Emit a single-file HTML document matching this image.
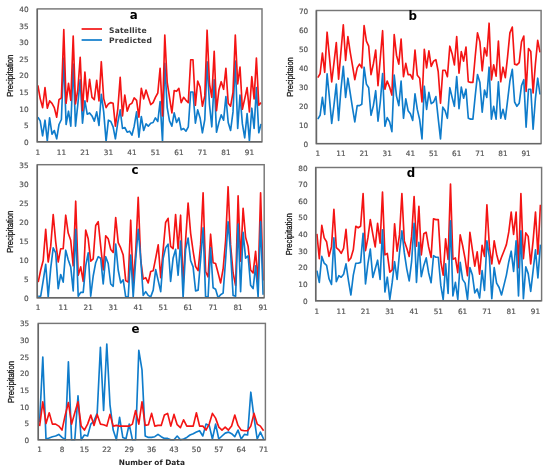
<!DOCTYPE html>
<html><head><meta charset="utf-8"><title>Precipitation charts</title>
<style>
html,body{margin:0;padding:0;background:#fff;}
body{width:550px;height:471px;overflow:hidden;}
svg{display:block;}
.tk{font-family:"DejaVu Sans","Liberation Sans",sans-serif;font-size:7.3px;fill:#555;stroke:#555;stroke-width:0.2px;}
.yl{font-family:"Liberation Sans","DejaVu Sans",sans-serif;font-size:8.6px;fill:#1a1a1a;stroke:#1a1a1a;stroke-width:0.3px;}
.ti{font-family:"DejaVu Sans","Liberation Sans",sans-serif;font-size:11.8px;font-weight:bold;fill:#000;}
.lg{font-family:"DejaVu Sans","Liberation Sans",sans-serif;font-size:7.6px;letter-spacing:0.2px;font-weight:bold;fill:#3a3a3a;}
.xt{font-family:"DejaVu Sans","Liberation Sans",sans-serif;font-size:7.4px;font-weight:bold;fill:#262626;}
</style></head><body>
<svg width="550" height="471" viewBox="0 0 550 471">
<rect width="550" height="471" fill="#fff"/>

<polyline points="37.9,117.2 40.2,120.9 42.6,135.8 45,120.2 47.3,140.8 49.6,117.9 52,134.2 54.3,130.5 56.7,138.8 59,124.5 61.4,119.5 63.8,58.1 66.1,124.5 68.5,111.2 70.8,126.2 73.2,64.1 75.5,126.2 77.8,104.6 80.2,79.7 82.5,123.2 84.9,100.9 87.2,114.2 89.6,112.9 92,115.9 94.3,121.2 96.7,111.9 99,125.5 101.3,94.3 103.7,111.9 106.1,141.5 108.4,120.2 110.8,121.5 113.1,126.8 115.4,138.8 117.8,122.5 120.2,109.9 122.5,128.5 124.8,127.5 127.2,132.2 129.6,131.2 131.9,135.2 134.2,126.2 136.6,111.9 138.9,137.1 141.3,116.5 143.7,130.5 146,123.9 148.3,126.2 150.7,123.2 153.1,122.5 155.4,117.9 157.8,121.5 160.1,101.6 162.5,141.5 164.8,63.4 167.2,107.6 169.5,120.9 171.9,126.2 174.2,112.9 176.6,122.5 178.9,117.9 181.2,129.8 183.6,128.5 186,131.2 188.3,126.8 190.7,92 193,92 195.4,123.2 197.7,109.9 200.1,117.9 202.4,132.8 204.8,119.5 207.1,61.7 209.5,104.6 211.8,126.8 214.2,79.7 216.5,132.2 218.9,122.5 221.2,114.9 223.6,120.2 225.9,96.6 228.2,122.5 230.6,130.5 233,111.9 235.3,61.1 237.7,128.5 240,95 242.4,123.9 244.7,137.8 247.1,113.6 249.4,140.8 251.8,108.2 254.1,128.5 256.4,87.6 258.8,132.8 261.1,123.9" fill="none" stroke="#0f7ccb" stroke-width="1.65" stroke-linejoin="round"/>
<polyline points="37.9,85.3 40.2,98.6 42.6,107.6 45,87.6 47.3,108.2 49.6,100.9 52,103.3 54.3,107.6 56.7,117.2 59,99.6 61.4,97.9 63.8,29.5 66.1,103.3 68.5,83.3 70.8,100.3 73.2,36.1 75.5,103.9 77.8,90 80.2,57.4 82.5,110.6 84.9,72 87.2,101.6 89.6,79.3 92,97.3 94.3,99.6 96.7,80.3 99,100.9 101.3,61.7 103.7,98.6 106.1,107.6 108.4,103.9 110.8,102.6 113.1,103.3 115.4,126.2 117.8,109.2 120.2,77.3 122.5,115.9 124.8,95 127.2,111.2 129.6,104.6 131.9,103.3 134.2,97.9 136.6,100.3 138.9,117.2 141.3,88.3 143.7,98.9 146,90 148.3,97.3 150.7,104.6 153.1,102.6 155.4,97.3 157.8,93 160.1,68.4 162.5,115.9 164.8,35.1 167.2,82.3 169.5,97.3 171.9,112.9 174.2,90.6 176.6,91.3 178.9,88.3 181.2,102.6 183.6,97.3 186,100.3 188.3,102.6 190.7,59.7 193,59.7 195.4,105.3 197.7,81 200.1,87 202.4,106.2 204.8,95.9 207.1,30.2 209.5,84 211.8,97.3 214.2,51.4 216.5,110.6 218.9,90 221.2,81.7 223.6,89.3 225.9,68.4 228.2,103.3 230.6,106.2 233,92.3 235.3,35.1 237.7,84 240,67 242.4,109.2 244.7,98.9 247.1,87.6 249.4,111.9 251.8,76.7 254.1,98.9 256.4,58.1 258.8,105.3 261.1,102.6" fill="none" stroke="#f41414" stroke-width="1.65" stroke-linejoin="round"/>
<rect x="37.3" y="8.9" width="224.7" height="132.9" fill="none" stroke="#767676" stroke-width="1.45"/>
<path d="M37.3 8.9V141.8H262" fill="none" stroke="#666" stroke-width="1.45"/>
<text class="tk" x="28.6" y="144.8" text-anchor="end">0</text>
<text class="tk" x="28.6" y="128.2" text-anchor="end">5</text>
<text class="tk" x="28.6" y="111.6" text-anchor="end">10</text>
<text class="tk" x="28.6" y="95" text-anchor="end">15</text>
<text class="tk" x="28.6" y="78.4" text-anchor="end">20</text>
<text class="tk" x="28.6" y="61.7" text-anchor="end">25</text>
<text class="tk" x="28.6" y="45.1" text-anchor="end">30</text>
<text class="tk" x="28.6" y="28.5" text-anchor="end">35</text>
<text class="tk" x="28.6" y="11.9" text-anchor="end">40</text>
<text class="tk" x="37.9" y="154.9" text-anchor="middle">1</text>
<text class="tk" x="61.4" y="154.9" text-anchor="middle">11</text>
<text class="tk" x="84.9" y="154.9" text-anchor="middle">21</text>
<text class="tk" x="108.4" y="154.9" text-anchor="middle">31</text>
<text class="tk" x="131.9" y="154.9" text-anchor="middle">41</text>
<text class="tk" x="155.4" y="154.9" text-anchor="middle">51</text>
<text class="tk" x="178.9" y="154.9" text-anchor="middle">61</text>
<text class="tk" x="202.4" y="154.9" text-anchor="middle">71</text>
<text class="tk" x="225.9" y="154.9" text-anchor="middle">81</text>
<text class="tk" x="249.4" y="154.9" text-anchor="middle">91</text>
<text class="ti" x="133.7" y="19.2" text-anchor="middle">a</text>
<text class="yl" transform="translate(12.5,75.8) rotate(-90)" x="-21" textLength="42" lengthAdjust="spacingAndGlyphs">Precipitation</text>
<polyline points="317.8,77.6 320.1,73.8 322.4,53.1 324.7,72.3 327.1,32.2 329.4,56.7 331.7,82 334,62.6 336.3,42.6 338.6,79.1 340.9,52.3 343.3,24.8 345.6,60.5 347.9,36.5 350.2,52.1 352.5,65.6 354.8,79.7 357.2,67.9 359.5,64.1 361.8,67.9 364.1,25.5 366.4,41.1 368.7,46.2 371,74.6 373.4,63.7 375.7,50 378,85.6 380.3,58.2 382.6,30.7 384.9,89.2 387.2,81 389.6,87.1 391.9,95.1 394.2,34.5 396.5,55.2 398.8,64.1 401.1,39 403.5,76.7 405.8,63.4 408.1,74.6 410.4,74.6 412.7,79.1 415,50 417.3,75.3 419.7,78.2 422,102 424.3,49.3 426.6,67.9 428.9,50.8 431.2,66.4 433.6,61.1 435.9,59.7 438.2,71.5 440.5,103.3 442.8,70.2 445.1,70.2 447.4,76.7 449.8,46.2 452.1,53.7 454.4,64.9 456.7,36.5 459,73.1 461.3,51.6 463.6,61.1 466,47 468.3,81.8 470.6,82.4 472.9,82.4 475.2,56.7 477.5,32.9 479.9,41.9 482.2,70.8 484.5,47.8 486.8,55.9 489.1,23.2 491.4,79.9 493.7,64.9 496.1,76.1 498.4,41.1 500.7,81.8 503,67.2 505.3,77.6 507.6,56.7 509.9,32.9 512.3,27 514.6,64.1 516.9,64.9 519.2,62.6 521.5,41.9 523.8,36 526.1,91.5 528.5,48.5 530.8,51.6 533.1,93 535.4,64.1 537.7,40.4 540,52.3" fill="none" stroke="#f41414" stroke-width="1.65" stroke-linejoin="round"/>
<polyline points="317.8,119.1 320.1,115.3 322.4,97.4 324.7,114.5 327.1,73.8 329.4,97.4 331.7,123.4 334,104.8 336.3,84.1 338.6,120.4 340.9,90 343.3,66.4 345.6,97.4 347.9,78.2 350.2,93 352.5,107.9 354.8,121.9 357.2,105.6 359.5,105.6 361.8,104.2 364.1,67.2 366.4,84.1 368.7,87.7 371,115.3 373.4,105.6 375.7,90.7 378,121.2 380.3,102 382.6,73.6 384.9,126.3 387.2,117.6 389.6,121.9 391.9,131.6 394.2,75.1 396.5,96.1 398.8,105.6 401.1,81 403.5,118.3 405.8,98.9 408.1,110.7 410.4,113.7 412.7,120.4 415,93.8 417.3,109.4 419.7,119.8 422,139 424.3,86.2 426.6,109.4 428.9,92.3 431.2,103.7 433.6,102 435.9,96.6 438.2,118.3 440.5,139 442.8,107.1 445.1,110.7 447.4,118.3 449.8,87.7 452.1,97.4 454.4,106.3 456.7,76.5 459,108.6 461.3,87.1 463.6,98.2 466,89.2 468.3,118.3 470.6,119.1 472.9,119.1 475.2,96.1 477.5,74.6 479.9,82.6 482.2,112.2 484.5,90 486.8,97.4 489.1,67.2 491.4,119.1 493.7,106.3 496.1,119.1 498.4,81.8 500.7,118.3 503,109.4 505.3,119.1 507.6,100.4 509.9,81 512.3,69.4 514.6,102 516.9,106.3 519.2,103.3 521.5,85.6 523.8,79.7 526.1,127.2 528.5,89.2 530.8,89.2 533.1,129.3 535.4,98.9 537.7,78.2 540,94.5" fill="none" stroke="#0f7ccb" stroke-width="1.65" stroke-linejoin="round"/>
<rect x="316.4" y="10.5" width="224.7" height="133.1" fill="none" stroke="#767676" stroke-width="1.45"/>
<path d="M316.4 10.5V143.6H541.1" fill="none" stroke="#666" stroke-width="1.45"/>
<text class="tk" x="308.2" y="146.6" text-anchor="end">0</text>
<text class="tk" x="308.2" y="127.6" text-anchor="end">10</text>
<text class="tk" x="308.2" y="108.6" text-anchor="end">20</text>
<text class="tk" x="308.2" y="89.6" text-anchor="end">30</text>
<text class="tk" x="308.2" y="70.5" text-anchor="end">40</text>
<text class="tk" x="308.2" y="51.5" text-anchor="end">50</text>
<text class="tk" x="308.2" y="32.5" text-anchor="end">60</text>
<text class="tk" x="308.2" y="13.5" text-anchor="end">70</text>
<text class="tk" x="317.8" y="156.1" text-anchor="middle">1</text>
<text class="tk" x="340.9" y="156.1" text-anchor="middle">11</text>
<text class="tk" x="364.1" y="156.1" text-anchor="middle">21</text>
<text class="tk" x="387.2" y="156.1" text-anchor="middle">31</text>
<text class="tk" x="410.4" y="156.1" text-anchor="middle">41</text>
<text class="tk" x="433.6" y="156.1" text-anchor="middle">51</text>
<text class="tk" x="456.7" y="156.1" text-anchor="middle">61</text>
<text class="tk" x="479.9" y="156.1" text-anchor="middle">71</text>
<text class="tk" x="503" y="156.1" text-anchor="middle">81</text>
<text class="tk" x="526.1" y="156.1" text-anchor="middle">91</text>
<text class="ti" x="412.7" y="19.5" text-anchor="middle">b</text>
<text class="yl" transform="translate(292.8,76.9) rotate(-90)" x="-19.8" textLength="39.5" lengthAdjust="spacingAndGlyphs">Precipitaion</text>
<polyline points="38.2,282.1 40.7,270 43.2,260.5 45.7,229.3 48.2,262 50.7,246.4 53.2,214.5 55.7,241.8 58.2,262 60.7,248.7 63.2,248.7 65.7,215.2 68.2,233.1 70.7,240.3 73.2,265.8 75.7,201.2 78.2,275.3 80.7,266.9 83.2,281.4 85.7,230.1 88.2,238.8 90.7,261.2 93.2,258.9 95.7,225.5 98.2,221.7 100.7,246.4 103.2,270 105.7,235.8 108.2,238.8 110.7,249.4 113.2,252.5 115.7,217.5 118.2,242.6 120.7,247.9 123.2,255.1 125.7,280.6 128.2,282.1 130.7,220.2 133.2,283.6 135.7,252.1 138.2,197.4 140.7,259.7 143.2,279.1 145.7,277.6 148.2,282.9 150.7,271.5 153.2,270.7 155.7,258.2 158.2,244.9 160.7,277.6 163.2,249.4 165.6,222.5 168.1,218.3 170.6,246.4 173.1,248.7 175.6,214.5 178.1,248.7 180.6,215.2 183.1,285.5 185.6,240.3 188.1,203.1 190.6,233.1 193.1,251 195.6,266.5 198.1,270.7 200.6,244.9 203.1,192.8 205.6,271.5 208.1,276.8 210.6,234.2 213.1,262.7 215.6,263.5 218.1,273 220.6,282.9 223.1,269.2 225.6,240.7 228.1,186.7 230.6,244.9 233.1,273 235.6,285.5 238.1,195.9 240.6,261.2 243.1,208.4 245.6,237.3 248.1,246.4 250.6,270 253.1,273 255.6,251.3 258.1,282.9 260.6,192.8 263.1,280.6" fill="none" stroke="#f41414" stroke-width="1.65" stroke-linejoin="round"/>
<polyline points="38.2,296.2 40.7,296.2 43.2,280.6 45.7,264.3 48.2,296.9 50.7,268.4 53.2,247.9 55.7,252.9 58.2,288.6 60.7,274.5 63.2,282.1 65.7,250.2 68.2,259.7 70.7,266.9 73.2,290.9 75.7,229.3 78.2,296.2 80.7,292.4 83.2,292.4 85.7,265.8 88.2,252.9 90.7,296.2 93.2,276 95.7,262.7 98.2,256.7 100.7,258.2 103.2,284 105.7,256.7 108.2,263.5 110.7,284 113.2,286.3 115.7,244.1 118.2,270 120.7,282.9 123.2,279.8 125.7,296.9 128.2,296.9 130.7,255.1 133.2,296.9 135.7,259.7 138.2,229.3 140.7,258.2 143.2,295.4 145.7,291.6 148.2,295.4 150.7,296.9 153.2,290.1 155.7,269.6 158.2,280.6 160.7,291.6 163.2,258.2 165.6,247.9 168.1,244.1 170.6,281.4 173.1,258.2 175.6,249.4 178.1,275.3 180.6,241.1 183.1,297.7 185.6,249.4 188.1,238 190.6,260.5 193.1,266.9 195.6,290.9 198.1,290.1 200.6,259.7 203.1,227.8 205.6,296.9 208.1,296.9 210.6,247.9 213.1,287.8 215.6,289.3 218.1,297.7 220.6,294.7 223.1,293.1 225.6,259.7 228.1,221.7 230.6,252.5 233.1,295.4 235.6,296.2 238.1,224 240.6,291.6 243.1,232.3 245.6,258.2 248.1,255.9 250.6,285.2 253.1,288.6 255.6,265.8 258.1,296.9 260.6,221.7 263.1,294.7" fill="none" stroke="#0f7ccb" stroke-width="1.65" stroke-linejoin="round"/>
<rect x="37.3" y="164.7" width="226.9" height="133" fill="none" stroke="#767676" stroke-width="1.45"/>
<path d="M37.3 164.7V297.7H264.2" fill="none" stroke="#666" stroke-width="1.45"/>
<text class="tk" x="28.6" y="300.7" text-anchor="end">0</text>
<text class="tk" x="28.6" y="281.7" text-anchor="end">5</text>
<text class="tk" x="28.6" y="262.7" text-anchor="end">10</text>
<text class="tk" x="28.6" y="243.7" text-anchor="end">15</text>
<text class="tk" x="28.6" y="224.7" text-anchor="end">20</text>
<text class="tk" x="28.6" y="205.7" text-anchor="end">25</text>
<text class="tk" x="28.6" y="186.7" text-anchor="end">30</text>
<text class="tk" x="28.6" y="167.7" text-anchor="end">35</text>
<text class="tk" x="38.2" y="310.1" text-anchor="middle">1</text>
<text class="tk" x="63.2" y="310.1" text-anchor="middle">11</text>
<text class="tk" x="88.2" y="310.1" text-anchor="middle">21</text>
<text class="tk" x="113.2" y="310.1" text-anchor="middle">31</text>
<text class="tk" x="138.2" y="310.1" text-anchor="middle">41</text>
<text class="tk" x="163.2" y="310.1" text-anchor="middle">51</text>
<text class="tk" x="188.1" y="310.1" text-anchor="middle">61</text>
<text class="tk" x="213.1" y="310.1" text-anchor="middle">71</text>
<text class="tk" x="238.1" y="310.1" text-anchor="middle">81</text>
<text class="tk" x="263.1" y="310.1" text-anchor="middle">91</text>
<text class="ti" x="135" y="174.3" text-anchor="middle">c</text>
<text class="yl" transform="translate(13.2,231.8) rotate(-90)" x="-21" textLength="42" lengthAdjust="spacingAndGlyphs">Precipitation</text>
<polyline points="316.9,233.8 319.3,258.7 321.8,225.4 324.2,237.9 326.6,241.8 329,256.4 331.5,246.9 333.9,209.3 336.3,247.6 338.8,249.8 341.2,253.4 343.6,248.3 346,229.3 348.5,260.9 350.9,257.9 353.3,249.8 355.8,226.3 358.2,227.8 360.6,226.3 363.1,193.6 365.5,250.6 367.9,237.9 370.3,219.6 372.8,234.1 375.2,246.9 377.6,223.3 380.1,243.1 382.5,192.1 384.9,254.9 387.3,253.4 389.8,272.1 392.2,269.9 394.6,223.9 397.1,251.2 399.5,234.9 401.9,193.6 404.3,240.9 406.8,248.3 409.2,256.4 411.6,236.4 414.1,196.6 416.5,246.1 418.9,206.3 421.3,254.9 423.8,233.8 426.2,232.3 428.6,246.9 431.1,257.4 433.5,218.8 435.9,219.6 438.3,219.6 440.8,261.7 443.2,275.1 445.6,238.8 448.1,259.4 450.5,184 452.9,259.4 455.4,257.9 457.8,272.7 460.2,234.9 462.6,245.4 465.1,258.7 467.5,275.7 469.9,232.3 472.4,249.8 474.8,266.2 477.2,251.9 479.6,274.2 482.1,245.4 484.5,256.4 486.9,204.8 489.4,246.9 491.8,263.9 494.2,240.9 496.6,254.2 499.1,263.9 501.5,257.2 503.9,251.2 506.4,244.6 508.8,231.9 511.2,212.1 513.6,234.4 516.1,212.1 518.5,267.6 520.9,193.6 523.4,258.7 525.8,232.9 528.2,236.4 530.7,263.9 533.1,240.9 535.5,212.1 537.9,254.2 540.4,204.8" fill="none" stroke="#f41414" stroke-width="1.65" stroke-linejoin="round"/>
<polyline points="316.9,270.6 319.3,282.4 321.8,256.4 324.2,263.2 326.6,265.4 329,278.7 331.5,284.5 333.9,237.9 336.3,281.7 338.8,275.7 341.2,277.2 343.6,274.2 346,263.9 348.5,280.9 350.9,295 353.3,275.1 355.8,263.2 358.2,263.2 360.6,262.4 363.1,233.4 365.5,283.9 367.9,263.9 370.3,249.1 372.8,277.4 375.2,269.1 377.6,260.2 380.1,279.4 382.5,229.9 384.9,292 387.3,277.2 389.8,299.5 392.2,282.4 394.6,261.7 397.1,279.4 399.5,252.7 401.9,230.8 404.3,252.7 406.8,269.1 409.2,280.9 411.6,261.7 414.1,223.3 416.5,282.4 418.9,242.4 421.3,276.6 423.8,265.4 426.2,257.9 428.6,272.7 431.1,282.7 433.5,255.7 435.9,257.2 438.3,257.2 440.8,285.4 443.2,299.5 445.6,263.9 448.1,293.5 450.5,220.9 452.9,295.9 455.4,282.4 457.8,299.5 460.2,262.4 462.6,279.4 465.1,283.1 467.5,299.5 469.9,267.6 472.4,275.1 474.8,292.9 477.2,289 479.6,298 482.1,270.6 484.5,290.5 486.9,240.9 489.4,257.4 491.8,298.7 494.2,267.6 496.6,283.1 499.1,287.5 501.5,295 503.9,285.4 506.4,275.1 508.8,261.7 511.2,251.2 513.6,271.4 516.1,240.9 518.5,295.9 520.9,230.8 523.4,298.7 525.8,266.9 528.2,273.6 530.7,291.4 533.1,270.6 535.5,249.8 537.9,277.9 540.4,244.6" fill="none" stroke="#0f7ccb" stroke-width="1.65" stroke-linejoin="round"/>
<rect x="315.7" y="167.5" width="225.9" height="133.2" fill="none" stroke="#767676" stroke-width="1.45"/>
<path d="M315.7 167.5V300.7H541.6" fill="none" stroke="#666" stroke-width="1.45"/>
<text class="tk" x="307.6" y="303.7" text-anchor="end">0</text>
<text class="tk" x="307.6" y="287.1" text-anchor="end">10</text>
<text class="tk" x="307.6" y="270.4" text-anchor="end">20</text>
<text class="tk" x="307.6" y="253.8" text-anchor="end">30</text>
<text class="tk" x="307.6" y="237.1" text-anchor="end">40</text>
<text class="tk" x="307.6" y="220.4" text-anchor="end">50</text>
<text class="tk" x="307.6" y="203.8" text-anchor="end">60</text>
<text class="tk" x="307.6" y="187.2" text-anchor="end">70</text>
<text class="tk" x="307.6" y="170.5" text-anchor="end">80</text>
<text class="tk" x="316.9" y="313.6" text-anchor="middle">1</text>
<text class="tk" x="341.2" y="313.6" text-anchor="middle">11</text>
<text class="tk" x="365.5" y="313.6" text-anchor="middle">21</text>
<text class="tk" x="389.8" y="313.6" text-anchor="middle">31</text>
<text class="tk" x="414.1" y="313.6" text-anchor="middle">41</text>
<text class="tk" x="438.3" y="313.6" text-anchor="middle">51</text>
<text class="tk" x="462.6" y="313.6" text-anchor="middle">61</text>
<text class="tk" x="486.9" y="313.6" text-anchor="middle">71</text>
<text class="tk" x="511.2" y="313.6" text-anchor="middle">81</text>
<text class="tk" x="535.5" y="313.6" text-anchor="middle">91</text>
<text class="ti" x="411" y="177.2" text-anchor="middle">d</text>
<text class="yl" transform="translate(292,234.3) rotate(-90)" x="-21" textLength="42" lengthAdjust="spacingAndGlyphs">Precipitation</text>
<polyline points="39.6,422.4 42.8,357 46,439 49.2,438 52.4,436.7 55.6,436 58.8,434.4 62,437.4 65.2,439.7 68.4,361.9 71.6,439.7 74.8,439.7 78,395.8 81.2,439.7 84.4,435 87.6,436 90.8,424.1 94,421.1 97.2,413.1 100.4,347.3 103.6,410.5 106.8,344 110,404.8 113.2,430.1 116.4,439.7 119.6,417.4 122.8,437.4 126,438.7 129.2,424.1 132.4,439.7 135.6,439.7 138.8,350.3 142,369.9 145.2,436 148.4,437.4 151.6,437.4 154.8,436.7 158,434.4 161.2,436.7 164.4,438.4 167.6,438.4 170.8,439.7 174,439.7 177.2,436 180.4,439.7 183.6,439 186.8,437.4 190,435 193.2,433.7 196.4,432.1 199.6,430.7 202.8,436 206,424.1 209.2,425.4 212.4,439 215.6,424.1 218.8,439 222,436 225.2,433.1 228.4,432.1 231.6,433.7 234.8,436.7 238,430.1 241.2,439 244.4,434.4 247.6,435 250.8,392.2 254,417.4 257.2,439 260.4,432.1 263.6,439" fill="none" stroke="#0f7ccb" stroke-width="1.65" stroke-linejoin="round"/>
<polyline points="39.6,426.1 42.8,401.8 46,423.4 49.2,412.8 52.4,424.1 55.6,424.1 58.8,426.1 62,430.1 65.2,415.1 68.4,402.5 71.6,424.1 74.8,412.8 78,401.8 81.2,426.1 84.4,430.1 87.6,424.1 90.8,415.1 94,425.4 97.2,414.4 100.4,424.1 103.6,424.7 106.8,426.1 110,414.4 113.2,426.1 116.4,425.4 119.6,426.1 122.8,426.1 126,426.1 129.2,426.1 132.4,424.1 135.6,410.5 138.8,424.1 142,401.8 145.2,425.4 148.4,424.7 151.6,413.4 154.8,426.1 158,425.4 161.2,425.4 164.4,415.1 167.6,413.4 170.8,426.1 174,414.4 177.2,424.7 180.4,427.7 183.6,419.8 186.8,426.1 190,426.1 193.2,426.1 196.4,412.8 199.6,426.1 202.8,426.1 206,430.1 209.2,424.1 212.4,413.4 215.6,418.1 218.8,427.1 222,430.1 225.2,427.1 228.4,430.1 231.6,426.1 234.8,415.1 238,425.4 241.2,430.1 244.4,430.7 247.6,430.7 250.8,426.1 254,413.4 257.2,424.1 260.4,426.1 263.6,430.7" fill="none" stroke="#f41414" stroke-width="1.65" stroke-linejoin="round"/>
<rect x="38.3" y="323.4" width="227.1" height="116.3" fill="none" stroke="#767676" stroke-width="1.45"/>
<path d="M38.3 323.4V439.7H265.4" fill="none" stroke="#666" stroke-width="1.45"/>
<text class="tk" x="29.2" y="442.7" text-anchor="end">0</text>
<text class="tk" x="29.2" y="426.1" text-anchor="end">5</text>
<text class="tk" x="29.2" y="409.5" text-anchor="end">10</text>
<text class="tk" x="29.2" y="392.9" text-anchor="end">15</text>
<text class="tk" x="29.2" y="376.2" text-anchor="end">20</text>
<text class="tk" x="29.2" y="359.6" text-anchor="end">25</text>
<text class="tk" x="29.2" y="343" text-anchor="end">30</text>
<text class="tk" x="29.2" y="326.4" text-anchor="end">35</text>
<text class="tk" x="39.6" y="452.2" text-anchor="middle">1</text>
<text class="tk" x="62" y="452.2" text-anchor="middle">8</text>
<text class="tk" x="84.4" y="452.2" text-anchor="middle">15</text>
<text class="tk" x="106.8" y="452.2" text-anchor="middle">22</text>
<text class="tk" x="129.2" y="452.2" text-anchor="middle">29</text>
<text class="tk" x="151.6" y="452.2" text-anchor="middle">36</text>
<text class="tk" x="174" y="452.2" text-anchor="middle">43</text>
<text class="tk" x="196.4" y="452.2" text-anchor="middle">50</text>
<text class="tk" x="218.8" y="452.2" text-anchor="middle">57</text>
<text class="tk" x="241.2" y="452.2" text-anchor="middle">64</text>
<text class="tk" x="263.6" y="452.2" text-anchor="middle">71</text>
<text class="ti" x="135.4" y="333" text-anchor="middle">e</text>
<text class="yl" transform="translate(13.6,382) rotate(-90)" x="-21" textLength="42" lengthAdjust="spacingAndGlyphs">Precipitation</text>
<line x1="81.6" y1="29" x2="102" y2="29" stroke="#f41414" stroke-width="1.7"/>
<line x1="81.6" y1="40" x2="102" y2="40" stroke="#0f7ccb" stroke-width="1.7"/>
<text class="lg" x="109.0" y="32.5">Satellite</text>
<text class="lg" x="109.0" y="43.3">Predicted</text>
<text class="xt" x="151.8" y="464.9" text-anchor="middle">Number of Data</text>
</svg>
</body></html>
